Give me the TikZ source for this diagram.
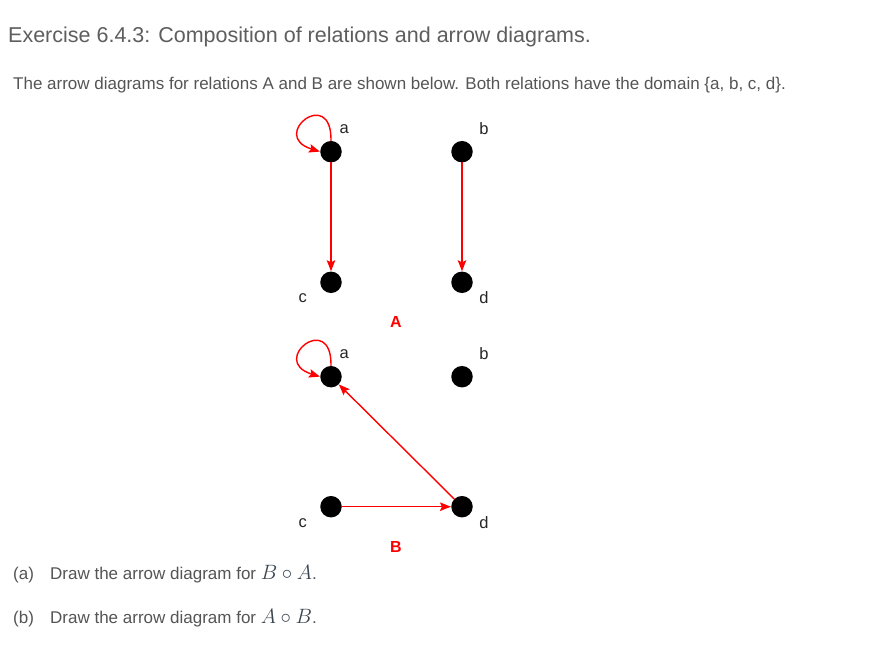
\documentclass[tikz,border=0pt]{standalone}
\usepackage{fontspec}
\setmainfont{Liberation Sans}
\usetikzlibrary{arrows.meta}
\definecolor{txtgray}{HTML}{555555}
\definecolor{ttlgray}{HTML}{5E5E5E}
\definecolor{mathgray}{HTML}{3A4650}
\definecolor{rel}{HTML}{FF0000}
\tikzset{
  dot/.style={circle,fill=black,inner sep=0pt,minimum size=21.5pt,outer sep=0pt},
  lbl/.style={inner sep=0pt,font=\fontsize{16.5pt}{18pt}\selectfont,text=black!85},
  ttl/.style={inner sep=0pt,font=\fontsize{16pt}{18pt}\selectfont\bfseries,text=rel},
  arr/.style={draw=rel,line width=1.4pt,-{Stealth[length=11pt,width=8.5pt,inset=2pt]},shorten >=0.3pt},
  body/.style={anchor=base west,inner sep=0pt,text=txtgray},
  qfont/.style={font=\fontsize{17pt}{20pt}\selectfont},
}
\newcommand{\mth}[1]{{\color{mathgray}\fontsize{21pt}{22pt}\selectfont$#1$}}
\begin{document}
\begin{tikzpicture}[x=1pt,y=1pt]
\useasboundingbox[fill=white] (0,0) rectangle (883,665);
% heading
\node[body,text=ttlgray,font=\fontsize{21.5pt}{24pt}\selectfont] (title) at (8,622) {Exercise 6.4.3: Composition of relations and arrow diagrams.};
\node[body,font=\fontsize{17pt}{20pt}\selectfont] (intro) at (13,575.5) {The arrow diagrams for relations A and B are shown below. Both relations have the domain \{a, b, c, d\}.};
% relation A
\node[dot] (Aa) at (331,513.3) {};
\node[dot] (Ab) at (462,513.3) {};
\node[dot] (Ac) at (331,382.7) {};
\node[dot] (Ad) at (462,382.7) {};
\node[lbl] (Aal) at (344.3,536) {a};
\node[lbl] (Abl) at (484,536) {b};
\node[lbl] (Acl) at (302.7,367.3) {c};
\node[lbl] (Adl) at (484,367.3) {d};
\node[ttl] (Aname) at (396,343.3) {A};
\draw[arr] (Aa.north) .. controls +(1,56) and +(-52,16) .. (Aa.west);
\draw[arr] (Aa) -- (Ac);
\draw[arr] (Ab) -- (Ad);
% relation B
\node[dot] (Ba) at (331,288.3) {};
\node[dot] (Bb) at (462,288.3) {};
\node[dot] (Bc) at (331,158.3) {};
\node[dot] (Bd) at (462,158.3) {};
\node[lbl] (Bal) at (344.3,311) {a};
\node[lbl] (Bbl) at (484,311) {b};
\node[lbl] (Bcl) at (302.7,142.3) {c};
\node[lbl] (Bdl) at (484,142.3) {d};
\node[ttl] (Bname) at (396,118.3) {B};
\draw[arr] (Ba.north) .. controls +(1,56) and +(-52,16) .. (Ba.west);
\draw[arr] (Bd) -- (Ba);
\draw[arr] (Bc) -- (Bd);
% questions
\node[body,qfont] (qa) at (13,86) {(a)};
\node[body,qfont] (qat) at (50,86) {Draw the arrow diagram for \mth{B\circ A}.};
\node[body,qfont] (qb) at (13,42) {(b)};
\node[body,qfont] (qbt) at (50,42) {Draw the arrow diagram for \mth{A\circ B}.};
\end{tikzpicture}
\end{document}
